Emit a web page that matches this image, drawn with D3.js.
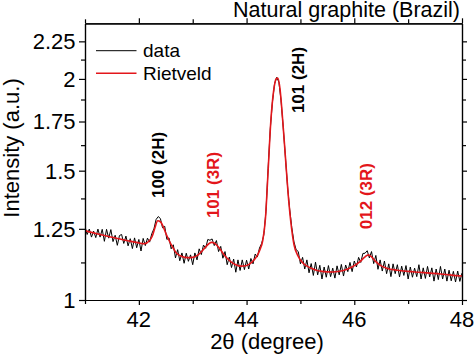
<!DOCTYPE html>
<meta charset="utf-8">
<script src="https://d3js.org/d3.v7.min.js"></script>
<style>
  body { margin: 0; background: #fff; }
  text { font-family: "Liberation Sans", Arial, sans-serif; }
</style>
<div id="my_dataviz"></div>

<script>
// measured pattern: start 41.00, step 0.04 deg
var dataStart = 41.0, dataStep = 0.04;
var dataI = [
  1.259, 1.228, 1.249, 1.218, 1.241, 1.216, 1.249, 1.218, 1.248, 1.202,
  1.248, 1.214, 1.247, 1.201, 1.225, 1.187, 1.224, 1.228, 1.194, 1.222,
  1.185, 1.212, 1.175, 1.215, 1.178, 1.209, 1.166, 1.213, 1.186, 1.214,
  1.199, 1.231, 1.250, 1.287, 1.299, 1.291, 1.254, 1.260, 1.209, 1.215,
  1.174, 1.189, 1.141, 1.171, 1.131, 1.159, 1.122, 1.158, 1.129, 1.152,
  1.117, 1.159, 1.134, 1.174, 1.153, 1.188, 1.176, 1.209, 1.206, 1.211,
  1.186, 1.205, 1.164, 1.183, 1.140, 1.164, 1.117, 1.144, 1.107, 1.137,
  1.091, 1.134, 1.097, 1.134, 1.100, 1.133, 1.102, 1.139, 1.120, 1.155,
  1.144, 1.177, 1.194, 1.226, 1.320, 1.510, 1.710, 1.860, 1.970, 2.010,
  1.980, 1.870, 1.720, 1.570, 1.430, 1.330, 1.255, 1.200, 1.171, 1.164,
  1.120, 1.143, 1.102, 1.134, 1.089, 1.121, 1.080, 1.126, 1.082, 1.115,
  1.068, 1.109, 1.074, 1.114, 1.076, 1.105, 1.071, 1.113, 1.082, 1.118,
  1.078, 1.116, 1.093, 1.125, 1.093, 1.130, 1.109, 1.143, 1.125, 1.157,
  1.158, 1.167, 1.141, 1.164, 1.121, 1.150, 1.101, 1.134, 1.095, 1.130,
  1.086, 1.120, 1.076, 1.120, 1.086, 1.117, 1.075, 1.112, 1.080, 1.114,
  1.068, 1.109, 1.074, 1.105, 1.076, 1.117, 1.068, 1.106, 1.070, 1.111,
  1.075, 1.106, 1.061, 1.102, 1.066, 1.111, 1.068, 1.102, 1.061, 1.098,
  1.062, 1.094, 1.058, 1.095, 1.060, 1.088
];

// Rietveld fit
var fitX = [41.0, 41.2, 41.4, 41.6, 41.8, 42.0, 42.1, 42.2, 42.25, 42.3,
  42.35, 42.4, 42.45, 42.5, 42.6, 42.7, 42.8, 42.9, 43.0, 43.1,
  43.2, 43.3, 43.35, 43.4, 43.5, 43.6, 43.7, 43.8, 43.9, 44.0,
  44.1, 44.2, 44.25, 44.3, 44.35, 44.4, 44.45, 44.5, 44.55, 44.58,
  44.62, 44.67, 44.72, 44.77, 44.82, 44.88, 44.95, 45.05, 45.2, 45.4,
  45.6, 45.8, 45.95, 46.1, 46.2, 46.26, 46.32, 46.4, 46.5, 46.6,
  46.8, 47.0, 47.2, 47.4, 47.6, 47.8, 48.0];
var fitI = [1.243, 1.232, 1.222, 1.213, 1.204, 1.196, 1.193, 1.205, 1.222, 1.255,
  1.282, 1.278, 1.260, 1.233, 1.190, 1.158, 1.146, 1.142, 1.143, 1.152,
  1.172, 1.193, 1.198, 1.196, 1.175, 1.148, 1.129, 1.117, 1.112, 1.114,
  1.126, 1.150, 1.172, 1.205, 1.290, 1.500, 1.750, 1.920, 2.000, 2.005,
  1.940, 1.760, 1.570, 1.400, 1.280, 1.190, 1.150, 1.122, 1.105, 1.094,
  1.092, 1.097, 1.108, 1.127, 1.145, 1.152, 1.145, 1.128, 1.113, 1.105,
  1.098, 1.094, 1.091, 1.088, 1.085, 1.081, 1.078];

var xMajor = [42, 44, 46, 48];
var xMinor = [41, 43, 45, 47];
var yMajor = [1, 1.25, 1.5, 1.75, 2, 2.25];
var yMinor = [1.125, 1.375, 1.625, 1.875, 2.125];

// label anchor: x = text baseline, yMid = middle of rotated text
var peakLabels = [
  {text: "100 (2H)", x: 42.47, yMid: 1.527, color: "#000"},
  {text: "101 (3R)", x: 43.49, yMid: 1.434, color: "#e3161b"},
  {text: "101 (2H)", x: 45.07, yMid: 1.993, color: "#000"},
  {text: "012 (3R)", x: 46.33, yMid: 1.385, color: "#e3161b"}
];

var width = 474, height = 356;
var plotL = 85, plotR = 462, plotT = 23.3, plotB = 300;

var svg = d3.select("#my_dataviz")
  .append("svg")
    .attr("width", width)
    .attr("height", height);

var x = d3.scaleLinear().domain([41, 48]).range([plotL, plotR]);
var y = d3.scaleLog().domain([1, 2.381]).range([plotB, plotT]);

svg.append("clipPath").attr("id", "clip")
  .append("rect")
    .attr("x", plotL).attr("y", plotT)
    .attr("width", plotR - plotL).attr("height", plotB - plotT);

// data + fit
var data = dataI.map(function (v, i) { return {x: dataStart + i * dataStep, y: v}; });
var fit = fitX.map(function (v, i) { return {x: v, y: fitI[i]}; });

var line = d3.line()
  .x(function (d) { return x(d.x); })
  .y(function (d) { return y(d.y); });

svg.append("path")
  .datum(data)
  .attr("clip-path", "url(#clip)")
  .attr("fill", "none")
  .attr("stroke", "#000")
  .attr("stroke-width", 1)
  .attr("d", line);

svg.append("path")
  .datum(fit)
  .attr("clip-path", "url(#clip)")
  .attr("fill", "none")
  .attr("stroke", "#e3161b")
  .attr("stroke-width", 1.6)
  .attr("d", line.curve(d3.curveMonotoneX));

// axes, ticks on every side pointing out
function addAxis(axisFn, scale, vals, size, transform) {
  svg.append("g")
    .attr("transform", transform)
    .call(axisFn(scale).tickValues(vals).tickSize(size).tickSizeOuter(0).tickFormat(""))
    .call(function (g) {
      g.select(".domain").attr("stroke-width", 1.2);
      g.selectAll(".tick line").attr("stroke-width", 1.2);
    });
}
addAxis(d3.axisBottom, x, xMajor, 5, "translate(0," + plotB + ")");
addAxis(d3.axisBottom, x, xMinor, 4, "translate(0," + plotB + ")");
addAxis(d3.axisTop, x, xMajor, 5, "translate(0," + plotT + ")");
addAxis(d3.axisTop, x, xMinor, 4, "translate(0," + plotT + ")");
addAxis(d3.axisLeft, y, yMajor, 6, "translate(" + plotL + ",0)");
addAxis(d3.axisLeft, y, yMinor, 4, "translate(" + plotL + ",0)");
addAxis(d3.axisRight, y, yMajor, 5, "translate(" + plotR + ",0)");
addAxis(d3.axisRight, y, yMinor, 4, "translate(" + plotR + ",0)");

// tick labels
svg.append("g").selectAll("text")
  .data(xMajor).enter().append("text")
    .attr("x", function (d) { return x(d); })
    .attr("y", 327)
    .attr("text-anchor", "middle")
    .style("font-size", "22px")
    .text(function (d) { return d; });

svg.append("g").selectAll("text")
  .data(yMajor).enter().append("text")
    .attr("x", 75.5)
    .attr("y", function (d) { return y(d); })
    .attr("dy", "0.36em")
    .attr("text-anchor", "end")
    .style("font-size", "22px")
    .text(function (d) { return d; });

// axis titles
svg.append("text")
  .attr("x", 267).attr("y", 348.5)
  .attr("text-anchor", "middle")
  .style("font-size", "22px")
  .text("2\u03b8 (degree)");

svg.append("text")
  .attr("transform", "translate(19,148) rotate(-90)")
  .attr("text-anchor", "middle")
  .style("font-size", "22px")
  .text("Intensity (a.u.)");

svg.append("text")
  .attr("x", 460).attr("y", 17)
  .attr("text-anchor", "end")
  .style("font-size", "21.5px")
  .text("Natural graphite (Brazil)");

// legend
var legend = [{name: "data", color: "#000", w: 1}, {name: "Rietveld", color: "#e3161b", w: 1.6}];
legend.forEach(function (d, i) {
  var ly = 50.7 + i * 22.6;
  svg.append("line")
    .attr("x1", 96).attr("x2", 136.5)
    .attr("y1", ly).attr("y2", ly)
    .attr("stroke", d.color).attr("stroke-width", d.w);
  svg.append("text")
    .attr("x", 143).attr("y", ly + 6.6)
    .style("font-size", "19px")
    .text(d.name);
});

// peak labels
peakLabels.forEach(function (d) {
  svg.append("text")
    .attr("transform", "translate(" + x(d.x) + "," + y(d.yMid) + ") rotate(-90)")
    .attr("text-anchor", "middle")
    .style("font-size", "17px")
    .style("font-weight", "bold")
    .attr("fill", d.color)
    .text(d.text);
});
</script>
